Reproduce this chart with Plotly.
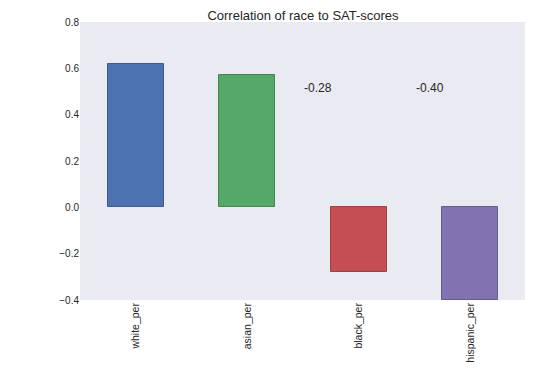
import plotly.graph_objects as go

categories = ["white_per", "asian_per", "black_per", "hispanic_per"]
values = [0.62, 0.57, -0.28, -0.40]
colors = ["#4C72B0", "#55A868", "#C44E52", "#8172B2"]
edge_colors = ["#3d5b8d", "#448653", "#9d3e41", "#675b8e"]
annot_x = [1.5, 2.5]
annot_y = [0.5, 0.5]
annot_text = ["-0.28", "-0.40"]

font = "Liberation Sans, Arial, DejaVu Sans, sans-serif"

fig = go.Figure()
fig.add_trace(go.Bar(
    x=list(range(len(categories))), y=values, width=0.5,
    marker=dict(color=colors, line=dict(color=edge_colors, width=1)),
    showlegend=False, hoverinfo="skip",
))

for x, y, t in zip(annot_x, annot_y, annot_text):
    fig.add_annotation(x=x, y=y, text=t, showarrow=False, xanchor="left", yanchor="bottom",
                       yshift=-5, xshift=-1,
                       xref="x", yref="y", font=dict(size=12, color="#262626", family=font))

fig.update_layout(
    width=525, height=370,
    margin=dict(l=72, r=7, t=14, b=78),
    paper_bgcolor="white", plot_bgcolor="#EAEAF2",
    title=dict(text="Correlation of race to SAT-scores", x=0.5, xref="paper", xanchor="center",
               y=1, yref="paper", yanchor="bottom", pad=dict(b=2),
               font=dict(size=13, color="#262626", family=font)),
    font=dict(family=font, color="#262626", size=10),
    bargap=0,
)
fig.update_xaxes(range=[-0.5, 3.5], tickvals=list(range(len(categories))), ticktext=categories,
                 tickangle=-90, showgrid=False, zeroline=False, showline=False, ticks="",
                 tickfont=dict(size=10.5, color="#262626"))
fig.update_yaxes(range=[-0.4, 0.8], tickvals=[-0.4, -0.2, 0.0, 0.2, 0.4, 0.6, 0.8],
                 tickformat=".1f", showgrid=False, zeroline=False, showline=False, ticks="",
                 tickfont=dict(size=10, color="#262626"))

fig.write_html("out.html")
